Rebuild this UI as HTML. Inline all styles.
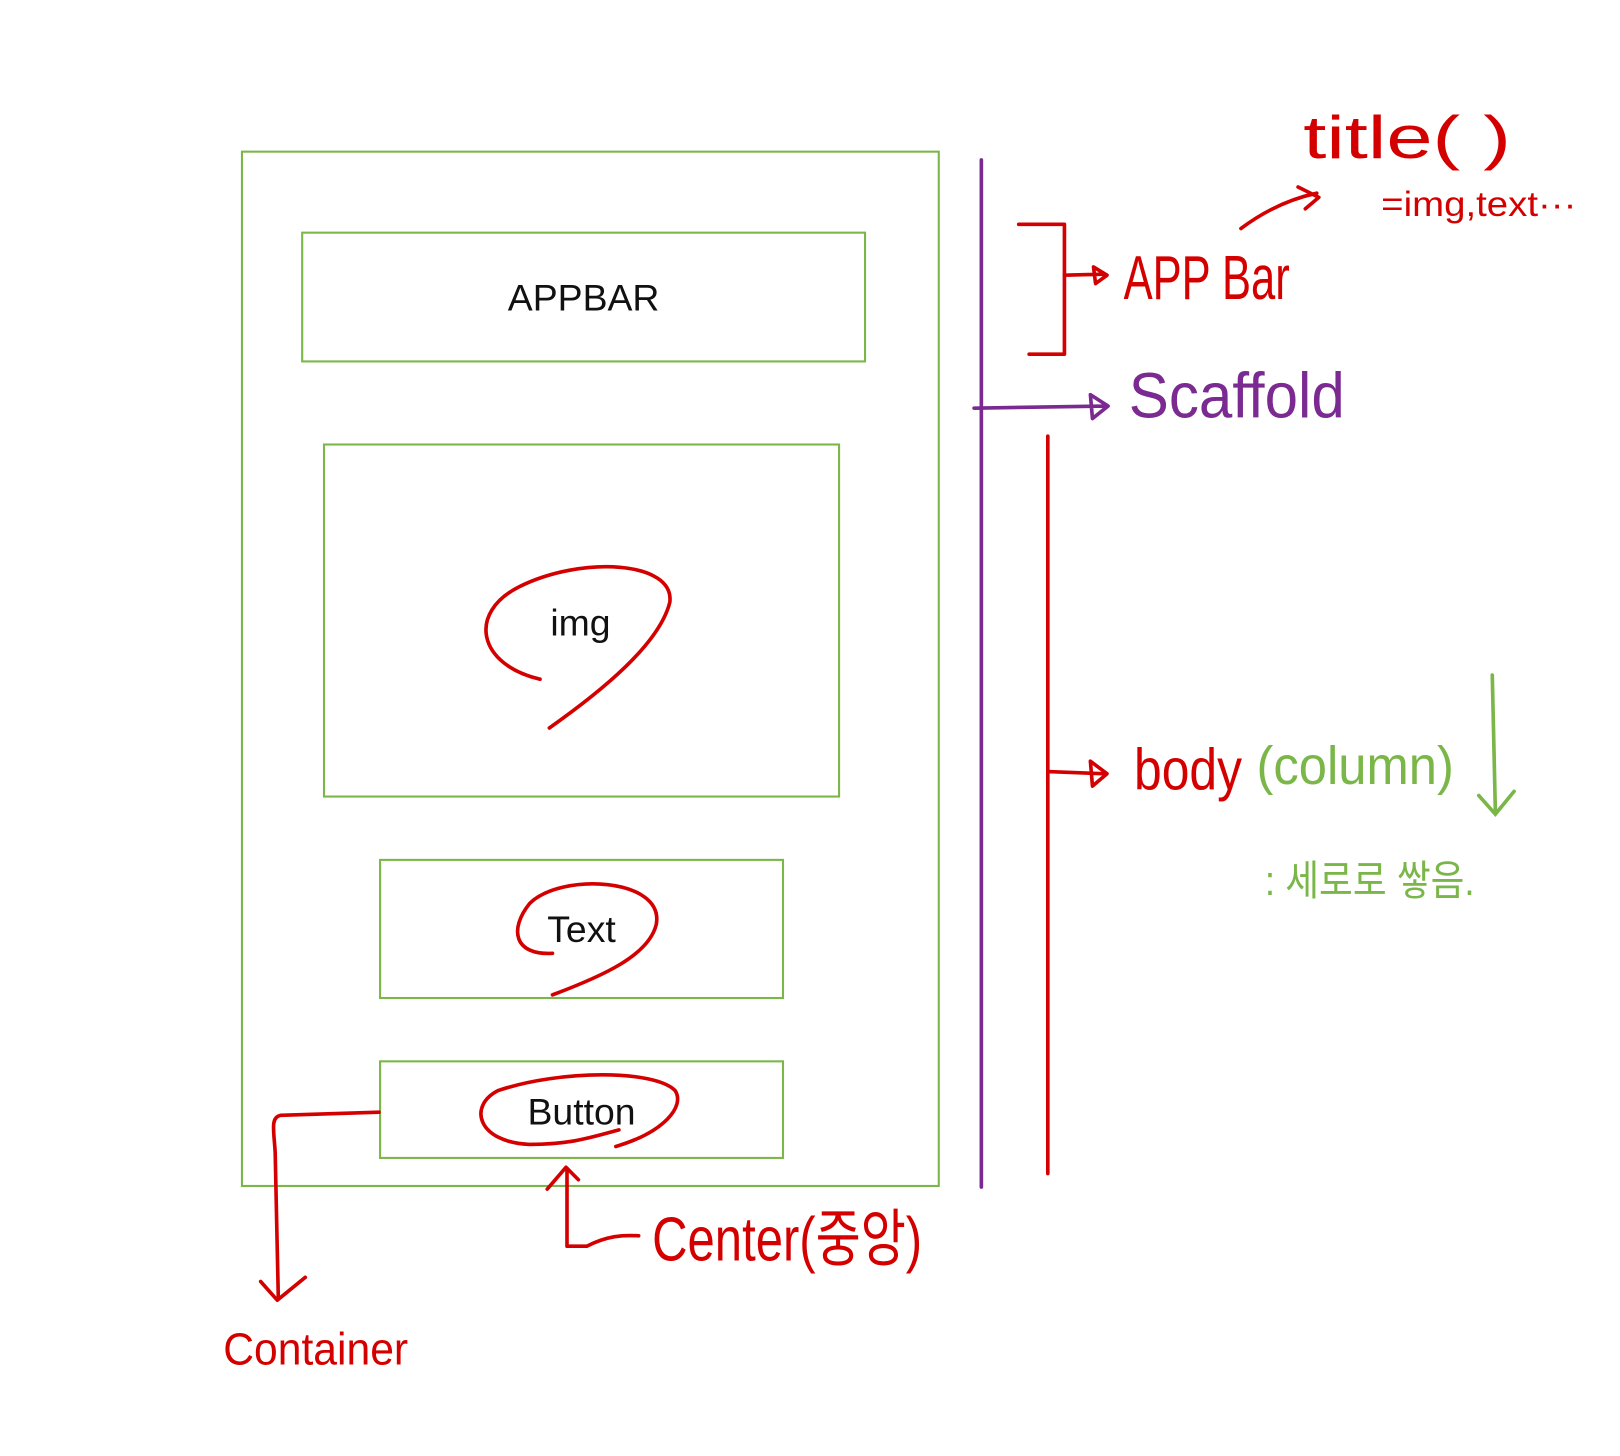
<!DOCTYPE html>
<html><head><meta charset="utf-8"><style>
html,body{margin:0;padding:0;background:#fff;}
svg{display:block;}
.h{font-family:"Liberation Sans Narrow","Liberation Sans","Noto Sans CJK KR",sans-serif;}
.p{font-family:"Liberation Sans","DejaVu Sans",sans-serif;fill:#111;}
</style></head><body>
<svg width="1620" height="1456" viewBox="0 0 1560 1402" xmlns="http://www.w3.org/2000/svg">
<g fill="none" stroke="#7ab648" stroke-width="2">
<rect x="233" y="146" width="671" height="996"/>
<rect x="291" y="224" width="542" height="124"/>
<rect x="312" y="428" width="496" height="339"/>
<rect x="366" y="828" width="388" height="133"/>
<rect x="366" y="1022" width="388" height="93"/>
</g>
<text class="p" x="562" y="299" font-size="36" text-anchor="middle">APPBAR</text>
<text class="p" x="559" y="612" font-size="36" text-anchor="middle">img</text>
<text class="p" x="560" y="907" font-size="36" text-anchor="middle">Text</text>
<text class="p" x="560" y="1083" font-size="36" text-anchor="middle">Button</text>
<g fill="none" stroke="#d40000" stroke-width="3.5" stroke-linecap="round" stroke-linejoin="round">
<path d="M520 654 C460 640 450 590 500 565 C560 535 650 540 645 580 C635 620 580 665 529 701"/>
<path d="M532 918 C495 920 490 895 510 870 C540 840 640 845 632 890 C625 920 580 940 532 958"/>
<path d="M593 1104 C640 1090 660 1065 650 1050 C630 1030 540 1030 480 1050 C450 1065 460 1100 510 1102 C550 1102 570 1095 596 1088"/>
<path d="M365 1071 L270 1074 C260 1076 264 1090 265 1110 L268 1250"/>
<path d="M251 1234 L267 1252 L294 1230"/>
<path d="M546 1125 L546 1200 L565 1200 C585 1190 600 1189 615 1190"/>
<path d="M527 1145 L545 1124 L557 1136"/>
<path d="M981 216 L1025 216 L1025 341 L991 341"/>
<path d="M1025 265 L1062 264 M1053 257 L1066 265 L1055 273 Z"/>
<path d="M1195 220 C1215 205 1240 192 1268 186 M1250 180 L1270 190 L1257 201"/>
<path d="M1009 420 L1009 1130 M1009 743 L1062 745 M1050 733 L1066 745 L1052 757 Z"/>
</g>
<g fill="none" stroke="#7a2a90" stroke-width="3.5" stroke-linecap="round" stroke-linejoin="round">
<path d="M945 154 L945 1143"/>
<path d="M938 393 L1064 391 M1050 380 L1067 391 L1052 403 Z"/>
</g>
<g fill="none" stroke="#7ab648" stroke-width="3.5" stroke-linecap="round">
<path d="M1437 650 L1440 782 M1424 766 L1440 784 L1458 762"/>
</g>
<g class="h" fill="#d40000" lengthAdjust="spacingAndGlyphs">
<text x="1255" y="152" font-size="58" textLength="200" lengthAdjust="spacingAndGlyphs">title(  )</text>
<text x="1330" y="208" font-size="34" textLength="188" lengthAdjust="spacingAndGlyphs">=img,text···</text>
<text x="1082" y="288" font-size="60" textLength="160" lengthAdjust="spacingAndGlyphs">APP Bar</text>
<text x="1092" y="760" font-size="56" textLength="104" lengthAdjust="spacingAndGlyphs">body</text>
<text x="628" y="1214" font-size="60" textLength="260" lengthAdjust="spacingAndGlyphs">Center(중앙)</text>
<text x="215" y="1314" font-size="44" textLength="178" lengthAdjust="spacingAndGlyphs">Container</text>
</g>
<text class="h" x="1087" y="402" font-size="62" fill="#7a2a90" textLength="208" lengthAdjust="spacingAndGlyphs">Scaffold</text>
<text class="h" x="1210" y="755" font-size="52" fill="#7ab648" textLength="190" lengthAdjust="spacingAndGlyphs">(column)</text>
<text class="h" x="1218" y="862" font-size="40" fill="#7ab648" textLength="202" lengthAdjust="spacingAndGlyphs">: 세로로 쌓음.</text>
</svg>
</body></html>
